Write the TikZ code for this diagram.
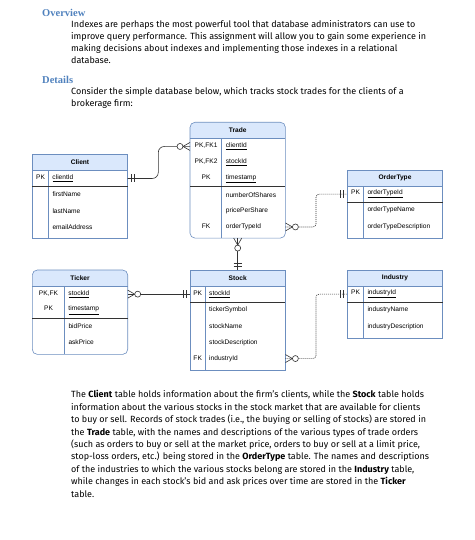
\documentclass[tikz,border=0pt]{standalone}
\usepackage{fontspec}
\setmainfont{Fira Sans}
\newfontfamily\headfont{Liberation Serif}
\newfontfamily\erfont{Liberation Sans}
\usetikzlibrary{positioning}
\definecolor{headblue}{HTML}{4F81BD}
\definecolor{erfill}{HTML}{DAE8FC}
\definecolor{erline}{HTML}{6C8EBF}
\definecolor{relline}{HTML}{333333}

\begin{document}
\begin{tikzpicture}[x=1pt,y=-1pt]
		\tikzstyle {heading} = [anchor=base west, inner sep=0, font=\headfont\bfseries\fontsize{10.5}{12}\selectfont, text=headblue]
		\tikzstyle {para} = [anchor=base west, inner sep=0, align=left, text=black]
		\tikzstyle {table box} = [minimum width=95pt, inner sep=0, anchor=north west]
		\tikzstyle {title} = [minimum width=95pt, minimum height=15.7pt, inner sep=0, fill=erfill, font=\erfont\bfseries\fontsize{6.6}{8}\selectfont]
		\tikzstyle {row} = [text width=95pt, minimum height=15.7pt, inner sep=0, align=left, font=\erfont\fontsize{6.6}{8}\selectfont]
		\tikzstyle {tbl} = [draw=erline, line width=0.6pt]
		\tikzstyle {key line} = [draw=relline, line width=0.8pt]
		\tikzstyle {rel} = [draw=relline, line width=0.6pt]
		\tikzstyle {opt} = [rel, dash pattern=on 1pt off 1pt]

		\useasboundingbox (0,0) rectangle (474,540);

		% paragraphs are placed by the baseline of their last line
		\node[heading] (overview) at (42,16.7) {Overview};
		\node[para, font=\fontsize{9}{11.85}\selectfont] (overview-text) at (71,63.3) {Indexes are perhaps the most powerful tool that database administrators can use to\\
			improve query performance. This assignment will allow you to gain some experience in\\
			making decisions about indexes and implementing those indexes in a relational\\
			database.};

		\node[heading] (details) at (42,83.7) {Details};
		\node[para, font=\fontsize{9}{11.7}\selectfont] (details-text) at (71,106.7) {Consider the simple database below, which tracks stock trades for the clients of a\\
			brokerage firm:};

		% Client
		\node[table box, minimum height=84pt] (client) at (32.3,154.3) {};
		\node[title, anchor=north] (client-title) at (client.north) {Client};
		\node[row, below=0pt of client-title] (client-clientId) {\makebox[16pt]{PK}\hspace{4pt}\underline{clientId}};
		\node[row, below=0pt of client-clientId] (client-firstName) {\makebox[16pt]{}\hspace{4pt}firstName};
		\node[row, below=0pt of client-firstName] (client-lastName) {\makebox[16pt]{}\hspace{4pt}lastName};
		\node[row, below=0pt of client-lastName] (client-emailAddress) {\makebox[16pt]{}\hspace{4pt}emailAddress};
		\draw[tbl] (client.north west) rectangle (client.south east);
		\draw[tbl] (client-title.south west) -- (client-title.south east);
		\draw[tbl] ([xshift=16pt]client-title.south west) -- ([xshift=16pt]client.south west);
		\draw[key line] (client-clientId.south west) -- (client-clientId.south east);

		% Trade
		\node[table box, minimum height=115.4pt] (trade) at (190,122.3) {};
		\begin{scope}
			\clip[rounded corners=5pt] (trade.north west) rectangle (trade.south east);
			\node[title, anchor=north] (trade-title) at (trade.north) {Trade};
		\end{scope}
		\node[row, below=0pt of trade-title] (trade-clientId) {\makebox[31.7pt]{PK,FK1}\hspace{4pt}\underline{clientId}};
		\node[row, below=0pt of trade-clientId] (trade-stockId) {\makebox[31.7pt]{PK,FK2}\hspace{4pt}\underline{stockId}};
		\node[row, below=0pt of trade-stockId] (trade-timestamp) {\makebox[31.7pt]{PK}\hspace{4pt}\underline{timestamp}};
		\node[row, below=0pt of trade-timestamp] (trade-numberOfShares) {\makebox[31.7pt]{}\hspace{4pt}numberOfShares};
		\node[row, below=0pt of trade-numberOfShares] (trade-pricePerShare) {\makebox[31.7pt]{}\hspace{4pt}pricePerShare};
		\node[row, below=0pt of trade-pricePerShare] (trade-orderTypeId) {\makebox[31.7pt]{FK}\hspace{4pt}orderTypeId};
		\draw[tbl, rounded corners=5pt] (trade.north west) rectangle (trade.south east);
		\draw[tbl] (trade-title.south west) -- (trade-title.south east);
		\draw[tbl] ([xshift=31.7pt]trade-title.south west) -- ([xshift=31.7pt]trade.south west);
		\draw[key line] (trade-timestamp.south west) -- (trade-timestamp.south east);

		% OrderType
		\node[table box, minimum height=68.3pt] (ordertype) at (347.3,170) {};
		\node[title, anchor=north] (ordertype-title) at (ordertype.north) {OrderType};
		\node[row, below=0pt of ordertype-title] (ordertype-orderTypeId) {\makebox[16pt]{PK}\hspace{4pt}\underline{orderTypeId}};
		\node[row, below=0pt of ordertype-orderTypeId] (ordertype-orderTypeName) {\makebox[16pt]{}\hspace{4pt}orderTypeName};
		\node[row, below=0pt of ordertype-orderTypeName] (ordertype-orderTypeDescription) {\makebox[16pt]{}\hspace{4pt}orderTypeDescription};
		\draw[tbl] (ordertype.north west) rectangle (ordertype.south east);
		\draw[tbl] (ordertype-title.south west) -- (ordertype-title.south east);
		\draw[tbl] ([xshift=16pt]ordertype-title.south west) -- ([xshift=16pt]ordertype.south west);
		\draw[key line] (ordertype-orderTypeId.south west) -- (ordertype-orderTypeId.south east);

		% Ticker
		\node[table box, minimum height=84pt] (ticker) at (32.3,270) {};
		\begin{scope}
			\clip[rounded corners=5pt] (ticker.north west) rectangle (ticker.south east);
			\node[title, anchor=north] (ticker-title) at (ticker.north) {Ticker};
		\end{scope}
		\node[row, below=0pt of ticker-title] (ticker-stockId) {\makebox[32pt]{PK,FK}\hspace{4pt}\underline{stockId}};
		\node[row, below=0pt of ticker-stockId] (ticker-timestamp) {\makebox[32pt]{PK}\hspace{4pt}\underline{timestamp}};
		\node[row, below=0pt of ticker-timestamp] (ticker-bidPrice) {\makebox[32pt]{}\hspace{4pt}bidPrice};
		\node[row, below=0pt of ticker-bidPrice] (ticker-askPrice) {\makebox[32pt]{}\hspace{4pt}askPrice};
		\draw[tbl, rounded corners=5pt] (ticker.north west) rectangle (ticker.south east);
		\draw[tbl] (ticker-title.south west) -- (ticker-title.south east);
		\draw[tbl] ([xshift=32pt]ticker-title.south west) -- ([xshift=32pt]ticker.south west);
		\draw[key line] (ticker-timestamp.south west) -- (ticker-timestamp.south east);

		% Stock
		\node[table box, minimum height=99.7pt] (stock) at (190,270) {};
		\node[title, anchor=north] (stock-title) at (stock.north) {Stock};
		\node[row, below=0pt of stock-title] (stock-stockId) {\makebox[15pt]{PK}\hspace{4pt}\underline{stockId}};
		\node[row, below=0pt of stock-stockId] (stock-tickerSymbol) {\makebox[15pt]{}\hspace{4pt}tickerSymbol};
		\node[row, below=0pt of stock-tickerSymbol] (stock-stockName) {\makebox[15pt]{}\hspace{4pt}stockName};
		\node[row, below=0pt of stock-stockName] (stock-stockDescription) {\makebox[15pt]{}\hspace{4pt}stockDescription};
		\node[row, below=0pt of stock-stockDescription] (stock-industryId) {\makebox[15pt]{FK}\hspace{4pt}industryId};
		\draw[tbl] (stock.north west) rectangle (stock.south east);
		\draw[tbl] (stock-title.south west) -- (stock-title.south east);
		\draw[tbl] ([xshift=15pt]stock-title.south west) -- ([xshift=15pt]stock.south west);
		\draw[key line] (stock-stockId.south west) -- (stock-stockId.south east);

		% Industry
		\node[table box, minimum height=68.3pt] (industry) at (347.3,270) {};
		\node[title, anchor=north] (industry-title) at (industry.north) {Industry};
		\node[row, below=0pt of industry-title] (industry-industryId) {\makebox[16pt]{PK}\hspace{4pt}\underline{industryId}};
		\node[row, below=0pt of industry-industryId] (industry-industryName) {\makebox[16pt]{}\hspace{4pt}industryName};
		\node[row, below=0pt of industry-industryName] (industry-industryDescription) {\makebox[16pt]{}\hspace{4pt}industryDescription};
		\draw[tbl] (industry.north west) rectangle (industry.south east);
		\draw[tbl] (industry-title.south west) -- (industry-title.south east);
		\draw[tbl] ([xshift=16pt]industry-title.south west) -- ([xshift=16pt]industry.south west);
		\draw[key line] (industry-industryId.south west) -- (industry-industryId.south east);

		% Client -- Trade
		\coordinate (bend-client) at (158.3,0);
		\draw[rel, rounded corners=6pt] (client-clientId.east) -| (bend-client |- trade-clientId.west) -- (trade-clientId.west);
		\draw[rel] ([xshift=4pt,yshift=4pt]client-clientId.east) -- ([xshift=4pt,yshift=-4pt]client-clientId.east);
		\draw[rel] ([xshift=7pt,yshift=4pt]client-clientId.east) -- ([xshift=7pt,yshift=-4pt]client-clientId.east);
		\draw[rel] ([yshift=4pt]trade-clientId.west) -- ([xshift=-7pt]trade-clientId.west) -- ([yshift=-4pt]trade-clientId.west);
		\draw[rel, fill=white] ([xshift=-10pt]trade-clientId.west) circle (3pt);

		% Trade -- OrderType
		\coordinate (bend-right) at (316,0);
		\draw[opt, rounded corners=3pt] (trade-orderTypeId.east) -| (bend-right |- ordertype-orderTypeId.west) -- (ordertype-orderTypeId.west);
		\draw[rel] ([yshift=4pt]trade-orderTypeId.east) -- ([xshift=7pt]trade-orderTypeId.east) -- ([yshift=-4pt]trade-orderTypeId.east);
		\draw[rel, fill=white] ([xshift=10pt]trade-orderTypeId.east) circle (3pt);
		\draw[rel] ([xshift=-4pt,yshift=4pt]ordertype-orderTypeId.west) -- ([xshift=-4pt,yshift=-4pt]ordertype-orderTypeId.west);
		\draw[rel] ([xshift=-7pt,yshift=4pt]ordertype-orderTypeId.west) -- ([xshift=-7pt,yshift=-4pt]ordertype-orderTypeId.west);

		% Trade -- Stock
		\draw[rel] (trade.south) -- (stock.north);
		\draw[rel] ([xshift=-4pt]trade.south) -- ([yshift=-7pt]trade.south) -- ([xshift=4pt]trade.south);
		\draw[rel, fill=white] ([yshift=-10pt]trade.south) circle (3pt);
		\draw[rel] ([xshift=-4pt,yshift=4pt]stock.north) -- ([xshift=4pt,yshift=4pt]stock.north);
		\draw[rel] ([xshift=-4pt,yshift=7pt]stock.north) -- ([xshift=4pt,yshift=7pt]stock.north);

		% Ticker -- Stock
		\draw[rel] (ticker-stockId.east) -- (stock-stockId.west);
		\draw[rel] ([yshift=4pt]ticker-stockId.east) -- ([xshift=7pt]ticker-stockId.east) -- ([yshift=-4pt]ticker-stockId.east);
		\draw[rel, fill=white] ([xshift=10pt]ticker-stockId.east) circle (3pt);
		\draw[rel] ([xshift=-4pt,yshift=4pt]stock-stockId.west) -- ([xshift=-4pt,yshift=-4pt]stock-stockId.west);
		\draw[rel] ([xshift=-7pt,yshift=4pt]stock-stockId.west) -- ([xshift=-7pt,yshift=-4pt]stock-stockId.west);

		% Stock -- Industry
		\draw[opt, rounded corners=3pt] (stock-industryId.east) -| (bend-right |- industry-industryId.west) -- (industry-industryId.west);
		\draw[rel] ([yshift=4pt]stock-industryId.east) -- ([xshift=7pt]stock-industryId.east) -- ([yshift=-4pt]stock-industryId.east);
		\draw[rel, fill=white] ([xshift=10pt]stock-industryId.east) circle (3pt);
		\draw[rel] ([xshift=-4pt,yshift=4pt]industry-industryId.west) -- ([xshift=-4pt,yshift=-4pt]industry-industryId.west);
		\draw[rel] ([xshift=-7pt,yshift=4pt]industry-industryId.west) -- ([xshift=-7pt,yshift=-4pt]industry-industryId.west);

		\node[para, font=\fontsize{9}{12.4}\selectfont] (summary-text) at (71,497) {The \textbf{Client} table holds information about the firm’s clients, while the \textbf{Stock} table holds\\
			information about the various stocks in the stock market that are available for clients\\
			to buy or sell. Records of stock trades (i.e., the buying or selling of stocks) are stored in\\
			the \textbf{Trade} table, with the names and descriptions of the various types of trade orders\\
			(such as orders to buy or sell at the market price, orders to buy or sell at a limit price,\\
			stop-loss orders, etc.) being stored in the \textbf{OrderType} table. The names and descriptions\\
			of the industries to which the various stocks belong are stored in the \textbf{Industry} table,\\
			while changes in each stock’s bid and ask prices over time are stored in the \textbf{Ticker}\\
			table.};
	\end{tikzpicture}
\end{document}
